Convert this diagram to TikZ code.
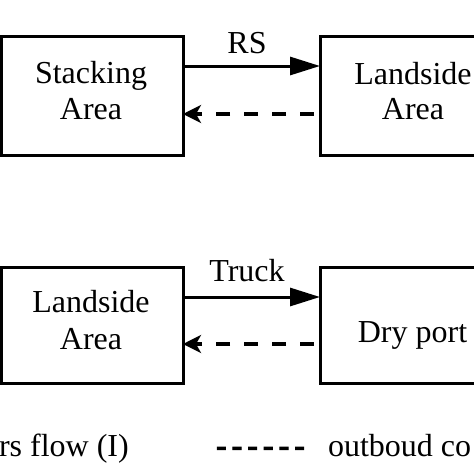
\documentclass[tikz,border=0pt]{standalone}
\usepackage{fontspec}
\setmainfont{Liberation Serif}
\usetikzlibrary{arrows.meta}
\begin{document}
\begin{tikzpicture}[x=1pt,y=-1pt,
  box/.style={draw, line width=3pt, inner sep=0pt, outer sep=0pt, rectangle},
  txt/.style={font=\fontsize{32}{36}\selectfont, inner sep=0pt, outer sep=0pt, anchor=base},
  flowsolid/.style={line width=3pt, -{Triangle[length=30pt,width=18pt]}},
  flowdash/.style={line width=3.4pt, dash pattern=on 14pt off 14pt, dash phase=22pt, -{Stealth[length=18pt,width=18pt,inset=5pt]}},
]
\useasboundingbox (0,0) rectangle (474,474);
\fill[white] (0,0) rectangle (474,474);
\clip (0,0) rectangle (474,474);
% top row
\node[box, minimum width=182pt, minimum height=119pt] (sa) at (92,95.5) {};
\node[box, minimum width=184pt, minimum height=119pt] (la1) at (412,95.5) {};
\node[txt] (tsa1) at (91,83) {Stacking};
\node[txt] (tsa2) at (91,119) {Area};
\node[txt] (tla1a) at (413,84) {Landside};
\node[txt] (tla1b) at (413,119) {Area};
\draw[flowsolid] ([yshift=-30pt]sa.north east) -- ([yshift=-30pt]la1.north west);
\draw[flowdash] ([yshift=-78pt]la1.north west) -- ([yshift=-78pt]sa.north east);
\node[txt] (rs) at (247,53) {RS};
% bottom row
\node[box, minimum width=182pt, minimum height=116pt] (la2) at (92,325) {};
\node[box, minimum width=184pt, minimum height=116pt] (dp) at (412,325) {};
\node[txt] (tla2a) at (91,312) {Landside};
\node[txt] (tla2b) at (91,349) {Area};
\node[txt] (tdp) at (412.5,342) {Dry port};
\draw[flowsolid] ([yshift=-30pt]la2.north east) -- ([yshift=-30pt]dp.north west);
\draw[flowdash] ([yshift=-77pt]dp.north west) -- ([yshift=-77pt]la2.north east);
\node[txt] (truck) at (247,281) {Truck};
% legend
\node[txt, anchor=base west] (leg1) at (-1,456) {rs flow (I)};
\node[txt, anchor=base west] (leg2d) at (216,456) {\bfseries\addfontfeature{FakeBold=2.5}-\kern5pt-\kern5pt-\kern5pt-\kern5pt-\kern5pt-};
\node[txt, anchor=base west] (leg2) at (328,456) {outboud co};
\end{tikzpicture}
\end{document}
